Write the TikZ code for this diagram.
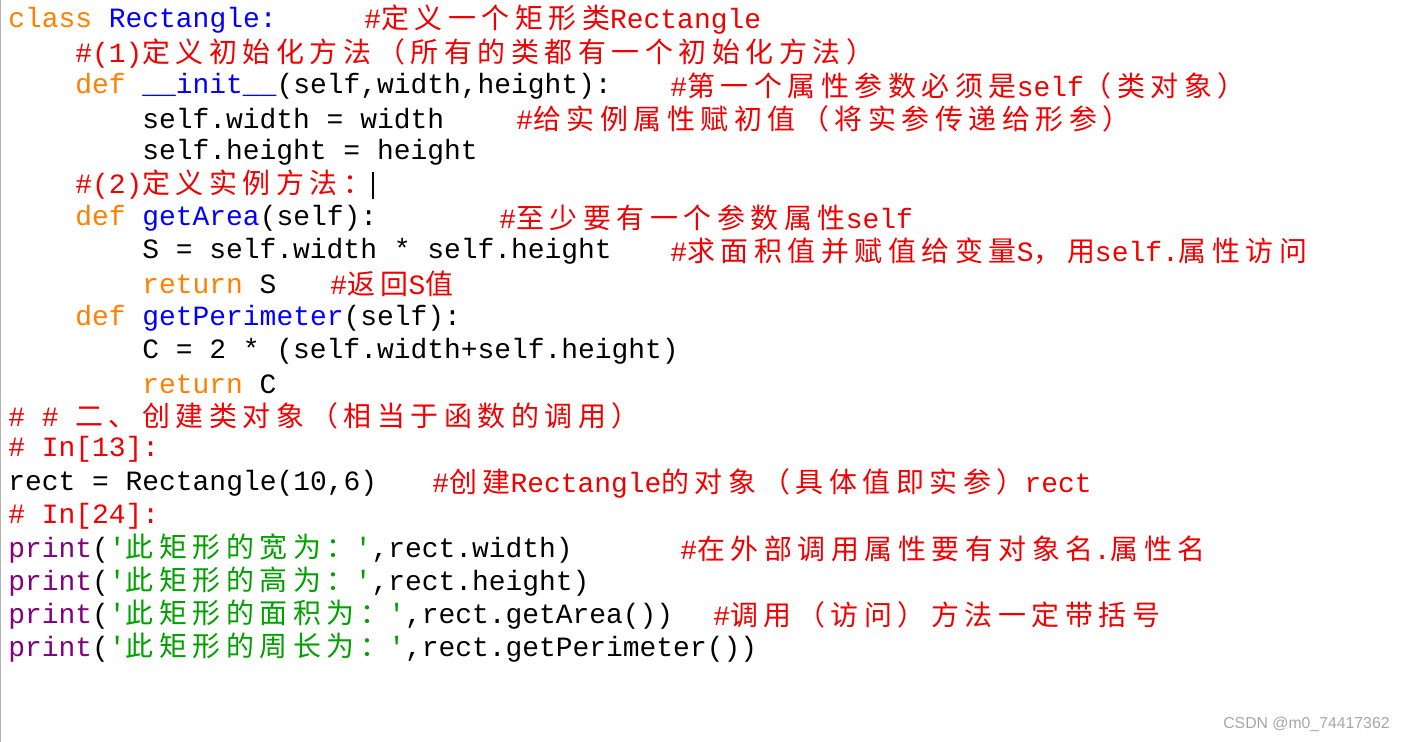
\documentclass[tikz,border=0pt]{standalone}
\usepackage{fontspec}
\newfontfamily\codefont{Liberation Mono}
\newfontfamily\zhfont[LetterSpace=20]{Noto Sans CJK SC}
\newfontfamily\markfont{Liberation Sans}
\definecolor{kwcol}{RGB}{255,128,0}
\definecolor{clscol}{RGB}{0,0,255}
\definecolor{cmtcol}{RGB}{240,0,0}
\definecolor{prtcol}{RGB}{128,0,128}
\definecolor{strcol}{RGB}{0,160,0}
\newcommand{\zh}[1]{{\zhfont #1}}
\newcommand{\kw}[1]{\textcolor{kwcol}{#1}}
\newcommand{\cls}[1]{\textcolor{clscol}{#1}}
\tikzset{codeline/.style={anchor=west,inner sep=0pt,font=\codefont\fontsize{15.9}{19}\selectfont}}
\tikzset{cmt/.style={codeline,text=cmtcol}}
\begin{document}
\begin{tikzpicture}[x=0.02cm,y=-0.02cm]
\useasboundingbox (0,0) rectangle (1405,742);
\draw[gray!60,line width=1pt] (0.5,0) -- (0.5,742);
% class header
\node[codeline] (l1) at (8,20) {\kw{class} \cls{Rectangle:}};
\node[cmt] (c1) at (364,20) {\#\zh{定义一个矩形类}Rectangle};
\node[cmt] (l2) at (75,53) {\#(1)\zh{定义初始化方法（所有的类都有一个初始化方法）}};
\node[codeline] (l3) at (75,86) {\kw{def} \cls{\_\_init\_\_}(self,width,height):};
\node[cmt] (c3) at (670,86) {\#\zh{第一个属性参数必须是}self\zh{（类对象）}};
\node[codeline] (l4) at (142,119) {self.width = width};
\node[cmt] (c4) at (516,119) {\#\zh{给实例属性赋初值（将实参传递给形参）}};
\node[codeline] (l5) at (142,152) {self.height = height};
\node[cmt] (l6) at (75,185) {\#(2)\zh{定义实例方法：}};
\draw[line width=1pt] (373,172) -- (373,199);
% methods
\node[codeline] (l7) at (75,218) {\kw{def} \cls{getArea}(self):};
\node[cmt] (c7) at (499,218) {\#\zh{至少要有一个参数属性}self};
\node[codeline] (l8) at (142,251) {S = self.width * self.height};
\node[cmt] (c8) at (670,251) {\#\zh{求面积值并赋值给变量}S\zh{，用}self.\zh{属性访问}};
\node[codeline] (l9) at (142,284) {\kw{return} S};
\node[cmt] (c9) at (330,284) {\#\zh{返回}S\zh{值}};
\node[codeline] (l10) at (75,318) {\kw{def} \cls{getPerimeter}(self):};
\node[codeline] (l11) at (142,351) {C = 2 * (self.width+self.height)};
\node[codeline] (l12) at (142,384) {\kw{return} C};
% calls
\node[cmt] (l13) at (8,416) {\# \# \zh{二、创建类对象（相当于函数的调用）}};
\node[cmt] (l14) at (8,449) {\# In[13]:};
\node[codeline] (l15) at (8,483) {rect = Rectangle(10,6)};
\node[cmt] (c15) at (432,483) {\#\zh{创建}Rectangle\zh{的对象（具体值即实参）}rect};
\node[cmt] (l16) at (8,516) {\# In[24]:};
\node[codeline] (l17) at (8,549) {\textcolor{prtcol}{print}(\textcolor{strcol}{'\zh{此矩形的宽为：}'},rect.width)};
\node[cmt] (c17) at (680,549) {\#\zh{在外部调用属性要有对象名}.\zh{属性名}};
\node[codeline] (l18) at (8,582) {\textcolor{prtcol}{print}(\textcolor{strcol}{'\zh{此矩形的高为：}'},rect.height)};
\node[codeline] (l19) at (8,615) {\textcolor{prtcol}{print}(\textcolor{strcol}{'\zh{此矩形的面积为：}'},rect.getArea())};
\node[cmt] (c19) at (713,615) {\#\zh{调用（访问）方法一定带括号}};
\node[codeline] (l20) at (8,648) {\textcolor{prtcol}{print}(\textcolor{strcol}{'\zh{此矩形的周长为：}'},rect.getPerimeter())};
\node[anchor=east,inner sep=0pt,text=gray!70,font=\markfont\fontsize{9}{11}\selectfont] (mark) at (1390,724) {CSDN @m0\_74417362};
\end{tikzpicture}
\end{document}
